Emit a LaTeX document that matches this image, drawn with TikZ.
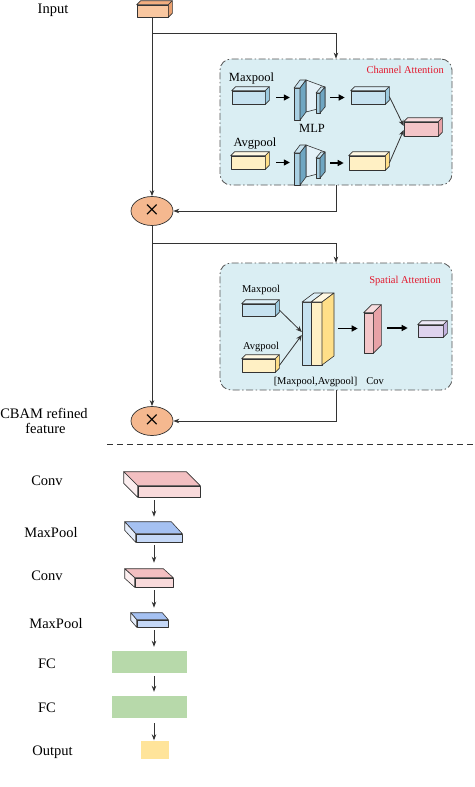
\documentclass[tikz,border=0pt]{standalone}
\usepackage{fontspec}
\setmainfont{Liberation Serif}
\usetikzlibrary{arrows.meta,shapes.geometric,calc}
\definecolor{edge}{HTML}{333333}
\definecolor{dashc}{HTML}{555555}
\definecolor{boxbg}{HTML}{DAEEF3}
\definecolor{attred}{HTML}{E3182D}
\definecolor{bluef}{HTML}{C6E2F0}
\definecolor{bluet}{HTML}{DDEFF7}
\definecolor{blues}{HTML}{9CCAE0}
\definecolor{yelf}{HTML}{FFF0C4}
\definecolor{yelt}{HTML}{FFF8E2}
\definecolor{yels}{HTML}{FFDF88}
\definecolor{redf}{HTML}{F3C5C8}
\definecolor{redt}{HTML}{F8DDDF}
\definecolor{reds}{HTML}{E8A2A7}
\definecolor{purf}{HTML}{DED3EE}
\definecolor{purt}{HTML}{EEE8F7}
\definecolor{purs}{HTML}{C4B3DF}
\definecolor{mlpf}{HTML}{A9D0E3}
\definecolor{mlps}{HTML}{6FA6C2}
\definecolor{mlpt}{HTML}{C9E4F1}
\definecolor{mlpk}{HTML}{E4F1F8}
\definecolor{inpf}{HTML}{F9C7A0}
\definecolor{inpt}{HTML}{F2AE80}
\definecolor{inps}{HTML}{E99F6E}
\definecolor{circ}{HTML}{F5B88F}
\definecolor{pinkf}{HTML}{F9DADB}
\definecolor{pinkt}{HTML}{F3BFC1}
\definecolor{bluebf}{HTML}{C5D8F7}
\definecolor{bluebt}{HTML}{A5C1F2}
\definecolor{fcg}{HTML}{B7D9AA}
\definecolor{outy}{HTML}{FFE49A}
% cuboid with depth up-right: name, front x0,y0,x1,y1, depth, front, top, side
\newcommand\cubo[9]{%
  \node[face,fill=#7,inner sep=0pt,minimum width={(#4-#2)*1pt},minimum height={(#5-#3)*1pt}] (#1) at ({(#2+#4)/2},{(#3+#5)/2}) {};
  \draw[face,fill=#8] (#1.north west) -- ++(#6pt,#6pt) -- ([shift={(#6pt,#6pt)}]#1.north east) -- (#1.north east) -- cycle;
  \draw[face,fill=#9] (#1.north east) -- ++(#6pt,#6pt) -- ([shift={(#6pt,#6pt)}]#1.south east) -- (#1.south east) -- cycle;
}
% slab with depth up-left: name, front x0,y0,x1,y1, dx, dy, front, top
\newcommand\slab[9]{%
  \node[face,fill=#8,inner sep=0pt,minimum width={(#4-#2)*1pt},minimum height={(#5-#3)*1pt}] (#1) at ({(#2+#4)/2},{(#3+#5)/2}) {};
  \draw[face,fill=#9] (#1.north west) -- ++(-#6pt,#7pt) -- ([shift={(-#6pt,#7pt)}]#1.north east) -- (#1.north east) -- cycle;
  \draw[face,fill=#8!45!white] (#1.north west) -- ++(-#6pt,#7pt) -- ([shift={(-#6pt,#7pt)}]#1.south west) -- (#1.south west) -- cycle;
}
% MLP block: name, top-left x, y
\newcommand\mlpblock[3]{%
  \begin{scope}[shift={(#2,#3)}]
    \node[inner sep=0pt,minimum width=31pt,minimum height=40pt] (#1) at (15.5,20) {};
    \draw[face,fill=mlpk] (12,0) -- (31,7) -- (31,27) -- (12,32) -- cycle;
    \draw[face,fill=mlpf] (22,13) rectangle (26,33);
    \draw[face,fill=mlpt] (22,13) -- (27,7) -- (31,7) -- (26,13) -- cycle;
    \draw[face,fill=mlps] (26,13) -- (31,7) -- (31,27) -- (26,33) -- cycle;
    \draw[face,fill=mlpf] (0,8) rectangle (6,40);
    \draw[face,fill=mlpt] (0,8) -- (6,0) -- (12,0) -- (6,8) -- cycle;
    \draw[face,fill=mlps] (6,8) -- (12,0) -- (12,32) -- (6,40) -- cycle;
  \end{scope}
}
\begin{document}
\begin{tikzpicture}[x=1pt,y=-1pt,
  face/.style={draw=edge,line width=0.6pt,line join=round},
  ln/.style={draw=edge,line width=0.75pt},
  arr/.style={ln,-{Stealth[length=6pt,width=4.5pt]}},
  barr/.style={draw=black,line width=1.3pt,-{Triangle[length=6pt,width=6pt]}},
  tarr/.style={draw=edge,line width=0.8pt,-{Stealth[length=6pt,width=5pt]}},
  lbl/.style={font=\fontsize{14.5}{16}\selectfont,inner sep=0pt,anchor=base},
  slbl/.style={font=\fontsize{12.5}{14}\selectfont,inner sep=0pt,anchor=base},
  tlbl/.style={font=\fontsize{10.5}{12}\selectfont,inner sep=0pt,anchor=base},
  att/.style={draw=dashc,line width=0.8pt,dash pattern=on 7pt off 2.5pt on 1.5pt off 2.5pt,rounded corners=11pt,fill=boxbg,inner sep=0pt},
  mul/.style={ellipse,draw=edge,fill=circ,line width=0.7pt,minimum width=42pt,minimum height=29pt,inner sep=0pt},
]
\useasboundingbox (0,0) rectangle (474,787);

% ---------- attention boxes ----------
\node[att,minimum width=232pt,minimum height=126pt] (ca) at (336,122) {};
\node[att,minimum width=232pt,minimum height=127pt] (sa) at (336,326.5) {};

% ---------- input and multipliers ----------
\node[lbl] (tin) at (53,13) {Input};
\cubo{inp}{137}{5}{168}{17}{4}{inpf}{inpt}{inps}
\node[mul] (m1) at (152,211) {};
\node[inner sep=0pt,font=\fontsize{26}{26}\selectfont] (m1x) at (152,212) {×};
\node[mul] (m2) at (152,421) {};
\node[inner sep=0pt,font=\fontsize{26}{26}\selectfont] (m2x) at (152,422) {×};
\node[lbl] (tcb1) at (44,418) {CBAM refined};
\node[lbl] (tcb2) at (45.5,433) {feature};

\coordinate (j1) at (152,33);
\coordinate (j2) at (152,243);
\draw[ln] (m1 |- inp.south) -- (j1);
\draw[arr] (j1) -- (m1.north);
\draw[arr] (j1) -| (ca.north);
\draw[arr] (ca.south) |- (m1.east);
\draw[ln] (m1.south) -- (j2);
\draw[arr] (j2) -- (m2.north);
\draw[arr] (j2) -| (sa.north);
\draw[arr] (sa.south) |- (m2.east);

% ---------- channel attention ----------
\node[tlbl,anchor=base east,text=attred] (tca) at (444,73) {Channel Attention};
\node[slbl] (tmx) at (251.5,81) {Maxpool};
\node[slbl] (tmlp) at (312,132) {MLP};
\node[slbl] (tav) at (255,146) {Avgpool};
\cubo{mp}{232}{91}{265}{104}{4}{bluef}{bluet}{blues}
\cubo{co1}{351}{91}{385}{104}{4}{bluef}{bluet}{blues}
\cubo{av}{231}{156}{265}{169}{4}{yelf}{yelt}{yels}
\cubo{co2}{349}{156}{385}{170}{4}{yelf}{yelt}{yels}
\cubo{red}{404}{122}{438}{136}{4}{redf}{redt}{reds}
\mlpblock{mlp1}{294}{80}
\mlpblock{mlp2}{294}{145}
\draw[barr,shorten <=11pt,shorten >=4pt] (mp.east) -- (mp.east -| mlp1.west);
\draw[barr,shorten <=5pt,shorten >=6pt] (mlp1.east |- co1.west) -- (co1.west);
\draw[barr,shorten <=11pt,shorten >=4pt] (av.east) -- (av.east -| mlp2.west);
\draw[barr,shorten <=5pt,shorten >=5pt] (mlp2.east |- co2.west) -- (co2.west);
\draw[tarr] ($(co1.east)+(4pt,1pt)$) -- ($(red.west)+(0,3pt)$);
\draw[tarr] ($(co2.east)+(4pt,0pt)$) -- ($(red.west)+(0,-1pt)$);

% ---------- spatial attention ----------
\node[tlbl,anchor=base east,text=attred] (tsa) at (441,283) {Spatial Attention};
\node[tlbl] (tsmx) at (261,292) {Maxpool};
\node[tlbl] (tsav) at (261,349) {Avgpool};
\node[tlbl] (tcat) at (315.5,384) {[Maxpool,Avgpool]};
\node[tlbl] (tcov) at (375,384) {Cov};
\cubo{smp}{242}{304}{275}{316}{4}{bluef}{bluet}{blues}
\cubo{sav}{242}{359}{275}{372}{4}{yelf}{yelt}{yels}
\node[inner sep=0pt,minimum width=20pt,minimum height=63pt] (cat) at (312,333.5) {};
\draw[face,fill=bluef] (302,302) rectangle (311,365);
\draw[face,fill=bluet] (302,302) -- (314,293) -- (323,293) -- (311,302) -- cycle;
\draw[face,fill=yelf] (311,302) rectangle (322,365);
\draw[face,fill=yelt] (311,302) -- (323,293) -- (334,293) -- (322,302) -- cycle;
\draw[face,fill=yels] (322,302) -- (334,293) -- (334,356) -- (322,365) -- cycle;
\cubo{cov}{364}{313}{373}{353}{8}{redf}{redt}{reds}
\cubo{pur}{418}{325}{443}{337}{4}{purf}{purt}{purs}
\draw[tarr] ($(smp.east)+(4pt,0)$) -- ($(cat.west)+(0,1.5pt)$);
\draw[tarr] ($(sav.east)+(4pt,0)$) -- ($(cat.west)+(0,-1.5pt)$);
\draw[barr] ($(cat.east)+(16pt,5pt)$) -- ($(cov.west |- cat.east)+(-6pt,5pt)$);
\draw[barr] ($(cov.east)+(14pt,5pt)$) -- ($(pur.west |- cov.east)+(-10pt,5pt)$);

% ---------- separator ----------
\draw[edge,line width=0.8pt,dash pattern=on 6pt off 4pt] (107,444) -- (474,444);

% ---------- CNN ----------
\coordinate (ax) at (154,0);
\node[lbl] (tc1) at (47,485) {Conv};
\node[lbl] (tp1) at (51,537) {MaxPool};
\node[lbl] (tc2) at (47,580) {Conv};
\node[lbl] (tp2) at (56,628) {MaxPool};
\node[lbl] (tf1) at (47,668) {FC};
\node[lbl] (tf2) at (47,712) {FC};
\node[lbl] (tout) at (52.5,755) {Output};
\slab{conv1}{138}{486}{200}{497}{14}{14}{pinkf}{pinkt}
\slab{mp1}{136}{534}{182}{542}{11}{12}{bluebf}{bluebt}
\slab{conv2}{135}{578}{173}{587}{10}{9}{pinkf}{pinkt}
\slab{mp2}{137}{620}{168}{627}{6}{7}{bluebf}{bluebt}
\node[fill=fcg,inner sep=0pt,minimum width=75pt,minimum height=22pt] (fc1) at (149.5,662) {};
\node[fill=fcg,inner sep=0pt,minimum width=75pt,minimum height=22pt] (fc2) at (149.5,707) {};
\node[fill=outy,inner sep=0pt,minimum width=28pt,minimum height=18pt] (out) at (155,750) {};
\draw[arr,shorten <=3pt,shorten >=5pt] (conv1.south -| ax) -- ($(mp1.north -| ax)+(0,12pt)$);
\draw[arr,shorten <=3pt,shorten >=6pt] (mp1.south -| ax) -- ($(conv2.north -| ax)+(0,9pt)$);
\draw[arr,shorten <=3pt,shorten >=5pt] (conv2.south -| ax) -- ($(mp2.north -| ax)+(0,7pt)$);
\draw[arr,shorten <=3pt,shorten >=4pt] (mp2.south -| ax) -- (fc1.north -| ax);
\draw[arr,shorten <=3pt,shorten >=4pt] (fc1.south -| ax) -- (fc2.north -| ax);
\draw[arr,shorten <=5pt,shorten >=0.5pt] (fc2.south -| ax) -- (out.north -| ax);
\end{tikzpicture}
\end{document}
